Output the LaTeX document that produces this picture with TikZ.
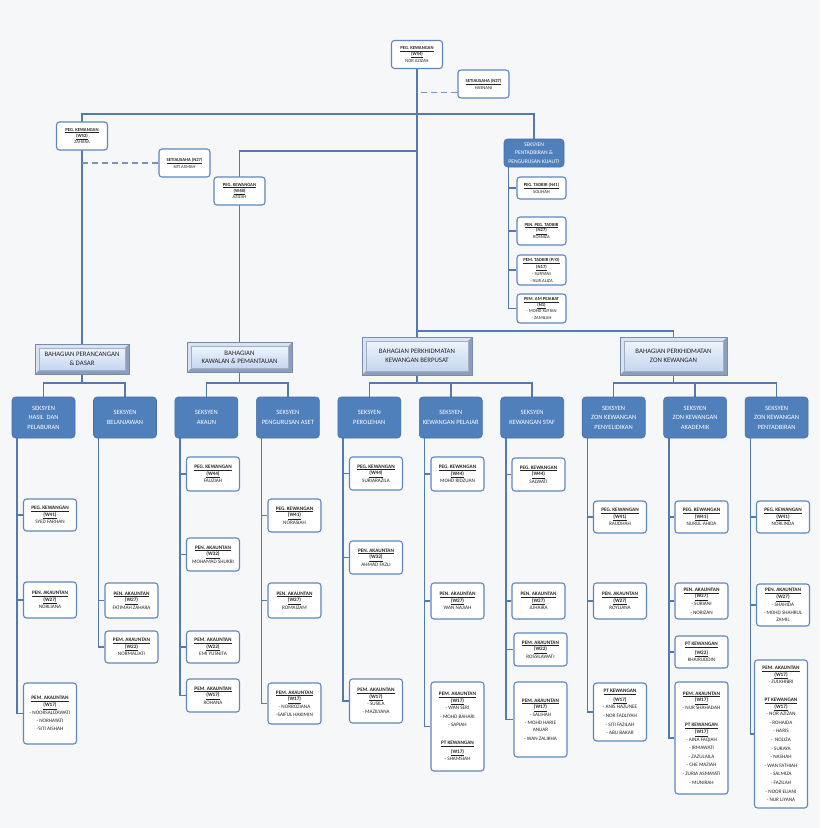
\documentclass[tikz,border=0pt]{standalone}
\usepackage{fontspec}
\setmainfont{Carlito}
\pgfdeclarelayer{bgfill}
\pgfdeclarelayer{lines}
\pgfsetlayers{bgfill,lines,main}
\definecolor{bgc}{RGB}{246,247,248}
\definecolor{lnc}{RGB}{82,122,176}
\definecolor{dshc}{RGB}{118,148,190}
\definecolor{boxc}{RGB}{95,135,190}
\definecolor{seks}{RGB}{80,128,188}
\definecolor{seksd}{RGB}{70,110,165}
\definecolor{bevE}{RGB}{120,140,170}
\definecolor{bevL}{RGB}{215,226,242}
\definecolor{bevD}{RGB}{140,158,188}
\definecolor{faceT}{RGB}{238,244,253}
\definecolor{faceB}{RGB}{196,214,240}
\definecolor{txt}{RGB}{35,35,35}
\newcommand\ttlx[1]{\underline{\textbf{#1}}}
\tikzset{
 conn/.style={draw=lnc, line width=1.5pt},
 dsh/.style={draw=dshc, line width=1.8pt, dash pattern=on 6pt off 4pt},
 staff/.style={draw=boxc, line width=1.1pt, fill=white, rounded corners=3pt, inner sep=0pt, align=center, text=txt, minimum width=53pt, font=\fontsize{5.2}{6.6}\selectfont},
 stafftop/.style={staff, minimum width=51pt, minimum height=28pt, font=\fontsize{4.6}{5.8}\selectfont},
 seksyen/.style={draw=seksd, line width=0.6pt, fill=seks, rounded corners=3.5pt, text=white, align=center, minimum width=63pt, minimum height=41pt, inner sep=0pt, font=\fontsize{6.5}{9.5}\selectfont},
 bahagian/.style={draw=bevE, line width=0.6pt, fill=bevL, align=center, inner sep=0pt, text=txt, font=\fontsize{6.8}{8.5}\selectfont,
  path picture={
   \fill[bevD] (path picture bounding box.south west) -- (path picture bounding box.south east) -- (path picture bounding box.north east) -- ([shift={(-4pt,-4pt)}]path picture bounding box.north east) -- ([shift={(-4pt,4pt)}]path picture bounding box.south east) -- ([shift={(4pt,4pt)}]path picture bounding box.south west) -- cycle;
   \shade[top color=faceT, bottom color=faceB, draw=bevE!70, line width=0.4pt] ([shift={(4pt,-4pt)}]path picture bounding box.north west) rectangle ([shift={(-4pt,4pt)}]path picture bounding box.south east);
  }},
}
\begin{document}
\begin{tikzpicture}[x=1pt,y=-1pt]
\useasboundingbox (0,0) rectangle (820,828);
\begin{pgfonlayer}{bgfill}
\fill[bgc] (0,0) rectangle (820,828);
\end{pgfonlayer}
% top level
\node[stafftop] (w54) at (417,54.5) {\ttlx{PEG. KEWANGAN}\\\ttlx{(W54)}\\[1pt]NOR AZIZAH};
\node[stafftop] (set1) at (483.5,84) {\ttlx{SETIAUSAHA (N27)}\\[1pt]HASNANI};
\node[stafftop] (w52) at (82,136) {\ttlx{PEG. KEWANGAN}\\\ttlx{(W52)}\\[1pt]ZAHARA};
\node[stafftop] (set2) at (184.5,163) {\ttlx{SETIAUSAHA (N27)}\\[1pt]SITI ASMAH};
\node[stafftop] (w48) at (239.5,191) {\ttlx{PEG. KEWANGAN}\\\ttlx{(W48)}\\[1pt]AZIZAH};
\node[seksyen, minimum width=60pt, minimum height=28pt, font=\fontsize{5.6}{8.2}\selectfont] (pq) at (534,153) {SEKSYEN\\PENTADBIRAN \&\\PENGURUSAN KUALITI};
\node[stafftop, minimum width=49pt, minimum height=22pt] (pq1) at (541.5,188) {\ttlx{PEG. TADBIR (N41)}\\[1pt]SOLIHAH};
\node[stafftop, minimum width=49pt, minimum height=28pt] (pq2) at (541.5,231) {\ttlx{PEN. PEG. TADBIR}\\\ttlx{(N27)}\\[1pt]ROSNIZA};
\node[stafftop, minimum width=49pt, minimum height=30pt] (pq3) at (541.5,270) {\ttlx{PEM. TADBIR (P/O)}\\\ttlx{(N17)}\\[1pt]- SURYANI\\[1pt]- NUR ALIZA};
\node[stafftop, minimum width=49pt, minimum height=29pt] (pq4) at (541.5,308.5) {\ttlx{PEM. AM PEJABAT}\\\ttlx{(N1)}\\[1pt]- MOHD SUFIAN\\[1pt]- ZAMILAH};
% bahagian
\node[bahagian, minimum width=94pt, minimum height=30pt] (b1) at (82,359) {BAHAGIAN PERANCANGAN\\\& DASAR};
\node[bahagian, minimum width=105pt, minimum height=30pt] (b2) at (239.5,357.5) {BAHAGIAN\\KAWALAN \& PEMANTAUAN};
\node[bahagian, minimum width=110pt, minimum height=38pt] (b3) at (417,356) {BAHAGIAN PERKHIDMATAN\\KEWANGAN BERPUSAT};
\node[bahagian, minimum width=107pt, minimum height=38pt] (b4) at (673.5,356) {BAHAGIAN PERKHIDMATAN\\ZON KEWANGAN};
% seksyen
\node[seksyen] (s1) at (43.5,417.5) {SEKSYEN\\HASIL\ \ DAN\\PELABURAN};
\node[seksyen] (s2) at (125,417.5) {SEKSYEN\\BELANJAWAN};
\node[seksyen] (s3) at (206.4,417.5) {SEKSYEN\\AKAUN};
\node[seksyen] (s4) at (287.9,417.5) {SEKSYEN\\PENGURUSAN ASET};
\node[seksyen] (s5) at (369.3,417.5) {SEKSYEN\\PEROLEHAN};
\node[seksyen] (s6) at (450.8,417.5) {SEKSYEN\\KEWANGAN PELAJAR};
\node[seksyen] (s7) at (532.2,417.5) {SEKSYEN\\KEWANGAN STAF};
\node[seksyen] (s8) at (613.7,417.5) {SEKSYEN\\ZON KEWANGAN\\PENYELIDIKAN};
\node[seksyen] (s9) at (695.1,417.5) {SEKSYEN\\ZON KEWANGAN\\AKADEMIK};
\node[seksyen] (s10) at (776.6,417.5) {SEKSYEN\\ZON KEWANGAN\\PENTADBIRAN};
% staff s1
\node[staff, minimum height=32pt] (s1a) at (50,515) {\ttlx{PEG. KEWANGAN}\\\ttlx{(W41)}\\[1pt]SYED FARHAN};
\node[staff, minimum height=36pt] (s1b) at (50,600) {\ttlx{PEN. AKAUNTAN}\\\ttlx{(W27)}\\[1pt]NORLIANA};
\node[staff, minimum height=61pt] (s1c) at (50,713.5) {\ttlx{PEM. AKAUNTAN}\\\ttlx{(W17)}\\[1pt]- NOORSALIZAWATI\\[1.5pt]- NORHAYATI\\[1.5pt]-SITI AISHAH};
% s2
\node[staff, minimum height=35pt] (s2a) at (131.5,600.5) {\ttlx{PEN. AKAUNTAN}\\\ttlx{(W27)}\\[1pt]FATIMAH ZAHARA};
\node[staff, minimum height=32pt] (s2b) at (131.5,647) {\ttlx{PEM. AKAUNTAN}\\\ttlx{(W22)}\\[1pt]NORMALIATI};
% s3
\node[staff, minimum height=34pt] (s3a) at (213,474) {\ttlx{PEG. KEWANGAN}\\\ttlx{(W44)}\\[1pt]FAUZIAH};
\node[staff, minimum height=33pt] (s3b) at (213,554.5) {\ttlx{PEN. AKAUNTAN}\\\ttlx{(W32)}\\[1pt]MOHAMAD SHUKRI};
\node[staff, minimum height=32pt] (s3c) at (213,647) {\ttlx{PEM. AKAUNTAN}\\\ttlx{(W22)}\\[1pt]EMI YUSNITA};
\node[staff, minimum height=33pt] (s3d) at (213,695.5) {\ttlx{PEM. AKAUNTAN}\\\ttlx{(W17)}\\[1pt]ROHANA};
% s4
\node[staff, minimum height=33pt] (s4a) at (294.5,515.5) {\ttlx{PEG. KEWANGAN}\\\ttlx{(W41)}\\[1pt]NORASIAH};
\node[staff, minimum height=35pt] (s4b) at (294.5,600.5) {\ttlx{PEN. AKAUNTAN}\\\ttlx{(W27)}\\[1pt]ROMAIZAM};
\node[staff, minimum height=41pt] (s4c) at (294.5,703.5) {\ttlx{PEM. AKAUNTAN}\\\ttlx{(W17)}\\[1pt]- NORROZIANA\\[1.5pt]-SAIFUL HAKIMIN};
% s5
\node[staff, minimum height=33pt] (s5a) at (376,473.5) {\ttlx{PEG. KEWANGAN}\\\ttlx{(W44)}\\[1pt]SURIARAZILA};
\node[staff, minimum height=33pt] (s5b) at (376,557.5) {\ttlx{PEN. AKAUNTAN}\\\ttlx{(W32)}\\[1pt]AHMAD FAZLI};
\node[staff, minimum height=44pt] (s5c) at (376,701) {\ttlx{PEM. AKAUNTAN}\\\ttlx{(W17)}\\[1pt]- SUSILA\\[1.5pt]- MAZILYANA};
% s6
\node[staff, minimum height=34pt] (s6a) at (457.5,474) {\ttlx{PEG. KEWANGAN}\\\ttlx{(W44)}\\[1pt]MOHD RIDZUAN};
\node[staff, minimum height=36pt] (s6b) at (457.5,601) {\ttlx{PEN. AKAUNTAN}\\\ttlx{(W27)}\\[1pt]WAN NAJIAH};
\node[staff, minimum height=89pt] (s6c) at (457.5,726.5) {\ttlx{PEM. AKAUNTAN}\\\ttlx{(W17)}\\[1pt]- WAN SERI\\[2pt]- MOHD BAHARI\\[2pt]- SAPIAH\\[11pt]\ttlx{PT KEWANGAN}\\[2pt]\ttlx{(W17)}\\[1pt]- SHAMSIAH};
% s7
\node[staff, minimum height=33pt] (s7a) at (538.5,474.5) {\ttlx{PEG. KEWANGAN}\\\ttlx{(W44)}\\[1pt]SALWATI};
\node[staff, minimum height=36pt] (s7b) at (538.5,601) {\ttlx{PEN. AKAUNTAN}\\\ttlx{(W27)}\\[1pt]JUHAIRA};
\node[staff, minimum height=33pt] (s7c) at (540.5,649.5) {\ttlx{PEM. AKAUNTAN}\\\ttlx{(W22)}\\[1pt]ROSSILAWATI};
\node[staff, minimum height=75pt] (s7d) at (540.5,719.5) {\ttlx{PEM. AKAUNTAN}\\\ttlx{(W17)}\\[1pt]- SALIHAH\\[2pt]- MOHD HARIE\\ANUAR\\[2pt]- WAN ZALIKHA};
% s8
\node[staff, minimum height=32pt] (s8a) at (620,517) {\ttlx{PEG. KEWANGAN}\\\ttlx{(W41)}\\[1pt]RAUDHAH};
\node[staff, minimum height=36pt] (s8b) at (620,601) {\ttlx{PEN. AKAUNTAN}\\\ttlx{(W27)}\\[1pt]ROYLIANA};
\node[staff, minimum height=58pt] (s8c) at (620,712) {\ttlx{PT KEWANGAN}\\[2pt]\ttlx{(W17)}\\[1pt]- ANIS HAZUNEE\\[2pt]- NOR FADLIYAH\\[2pt]- SITI FAZILAH\\[2pt]- ABU BAKAR};
% s9
\node[staff, minimum height=32pt] (s9a) at (701.5,517) {\ttlx{PEG. KEWANGAN}\\\ttlx{(W41)}\\[1pt]NURUL AHIDA};
\node[staff, minimum height=36pt] (s9b) at (701.5,601) {\ttlx{PEN. AKAUNTAN}\\\ttlx{(W27)}\\[1pt]- SURIANI\\[2pt]- NORIZAN};
\node[staff, minimum height=32pt] (s9c) at (701.5,652) {\ttlx{PT KEWANGAN}\\[2pt]\ttlx{(W22)}\\[1pt]KHAIRUDDIN};
\node[staff, minimum height=112pt] (s9d) at (701.5,738) {\ttlx{PEM. AKAUNTAN}\\\ttlx{(W17)}\\[1pt]- NUR SHAHADAH\\[11pt]\ttlx{PT KEWANGAN}\\\ttlx{(W17)}\\[1pt]- AINA FAQIAH\\[2pt]- IRMAWATI\\[2pt]- ZAZULAILA\\[2pt]- CHE MAZIAH\\[2pt]- ZURIA ASMAYATI\\[2pt]- MUNIRAH};
% s10
\node[staff, minimum height=32pt] (s10a) at (783,517) {\ttlx{PEG. KEWANGAN}\\\ttlx{(W41)}\\[1pt]NORLINDA};
\node[staff, minimum height=42pt] (s10b) at (783,605) {\ttlx{PEN. AKAUNTAN}\\\ttlx{(W27)}\\[1pt]- SHAHIDA\\[2pt]- MOHD SHAHRUL\\ZAMIL};
\node[staff, minimum height=148pt] (s10c) at (781,734) {\ttlx{PEM. AKAUNTAN}\\\ttlx{(W17)}\\[1pt]- ZULKHIBRI\\[11pt]\ttlx{PT KEWANGAN}\\\ttlx{(W17)}\\[1pt]- NOR AZIZAN\\[2pt]- ROHAIDA\\[2pt]- HARIS\\[2pt]-\ \ NOLIZA\\[2pt]- SURAYA\\[2pt]- NASHAH\\[2pt]- WAN FATHIAH\\[2pt]- SALMIZA\\[2pt]- FAZILAH\\[2pt]- NOOR ELIANI\\[2pt]- NUR LIYANA};
% connectors
\begin{pgfonlayer}{lines}
\coordinate (j1) at (417,114);
\coordinate (j2) at (417,151);
\coordinate (j3) at (417,331);
\coordinate (bus) at (0,383);
\draw[conn] (w54.south) -- (b3.north);
\draw[conn] (b1.north) |- (j1) -| (pq.north);
\draw[conn] (b2.north) |- (j2);
\draw[conn] (j3) -| (b4.north);
\coordinate (d1) at ([yshift=-8.5pt]set1.west);
\draw[dsh] (d1) -- (d1 -| w54.south);
\draw[dsh] (set2.west) -- (set2.west -| w52.south);
\foreach \c in {pq1,pq2,pq3,pq4} \draw[conn] ([xshift=5pt]pq.south west) |- (\c.west);
\draw[conn] (b1.south) -- (b1.south |- bus);
\draw[conn] (s1.north) |- (bus -| s2.north) -- (s2.north);
\draw[conn] (b2.south) -- (b2.south |- bus);
\draw[conn] (s3.north) |- (bus -| s4.north) -- (s4.north);
\draw[conn] (b3.south) -- (b3.south |- bus);
\draw[conn] (s5.north) |- (bus -| s7.north) -- (s7.north);
\draw[conn] (s6.north) -- (s6.north |- bus);
\draw[conn] (b4.south) -- (b4.south |- bus);
\draw[conn] (s8.north) |- (bus -| s10.north) -- (s10.north);
\draw[conn] (s9.north) -- (s9.north |- bus);
\foreach \b in {s1a,s1b,s1c} \draw[conn] ([xshift=5.5pt]s1.south west) |- (\b.west);
\foreach \b in {s2a,s2b} \draw[conn] ([xshift=5.5pt]s2.south west) |- (\b.west);
\foreach \b in {s3a,s3b,s3c,s3d} \draw[conn] ([xshift=5.5pt]s3.south west) |- (\b.west);
\foreach \b in {s4a,s4b,s4c} \draw[conn] ([xshift=5.5pt]s4.south west) |- (\b.west);
\foreach \b in {s5a,s5b,s5c} \draw[conn] ([xshift=5.5pt]s5.south west) |- (\b.west);
\foreach \b in {s6a,s6b,s6c} \draw[conn] ([xshift=5.5pt]s6.south west) |- (\b.west);
\foreach \b in {s7a,s7b,s7c,s7d} \draw[conn] ([xshift=5.5pt]s7.south west) |- (\b.west);
\foreach \b in {s8a,s8b,s8c} \draw[conn] ([xshift=5.5pt]s8.south west) |- (\b.west);
\foreach \b in {s9a,s9b,s9c,s9d} \draw[conn] ([xshift=5.5pt]s9.south west) |- (\b.west);
\foreach \b in {s10a,s10b,s10c} \draw[conn] ([xshift=5.5pt]s10.south west) |- (\b.west);
\end{pgfonlayer}
\end{tikzpicture}
\end{document}
